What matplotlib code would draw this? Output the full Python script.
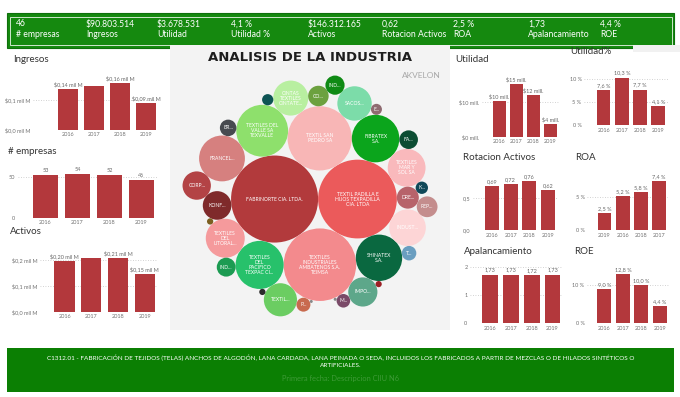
import math
import matplotlib
matplotlib.use('Agg')
import matplotlib.pyplot as plt
from matplotlib.patches import Circle, Rectangle

plt.rcParams['font.family'] = ['Lato', 'DejaVu Sans']

W, H = 680, 397
BAR = '#b3383c'

# ---------------- data ----------------
years = ['2016', '2017', '2018', '2019']

kpi_values = ['46', '$90.803.514', '$3.678.531', '4,1 %', '$146.312.165',
              '0,62', '2,5 %', '1,73', '4,4 %']
kpi_labels = ['# empresas', 'Ingresos', 'Utilidad', 'Utilidad %', 'Activos',
              'Rotacion Activos', 'ROA', 'Apalancamiento', 'ROE']

ingresos = [0.137, 0.147, 0.157, 0.091]      # mil M
empresas = [53, 54, 52, 46]
activos = [0.197, 0.206, 0.208, 0.146]       # mil M
utilidad = [10.2, 15.1, 12.0, 3.7]           # millones
utilidad_pct = [7.6, 10.3, 7.7, 4.1]
rotacion = [0.69, 0.72, 0.76, 0.62]
roa_years = ['2019', '2016', '2018', '2017']
roa = [2.5, 5.2, 5.8, 7.4]
apalancamiento = [1.73, 1.73, 1.72, 1.73]
roe = [9.0, 12.8, 10.0, 4.4]

# ingresos 2019 por empresa (millones), orden descendente
emp_labels = ['FABRINORTE CIA. LTDA.', 'TEXTIL PADILLA E\nHIJOS TEXPADILLA\nCIA. LTDA',
              'TEXTILES\nINDUSTRIALES\nAMBATENOS S.A.\nTEIMSA', 'TEXTIL SAN\nPEDRO SA',
              'TEXTILES DEL\nVALLE SA\nTEXVALLE', 'TEXTILES\nDEL\nPACIFICO\nTEXPAC CI...',
              'FIBRATEX\nS.A.', 'SHINATEX\nS.A.', 'FRANCEL...', 'TEXTILES\nDEL\nLITORAL...',
              'TEXTILES\nMAR Y\nSOL SA', 'INDUST...', 'CINTAS\nTEXTILES\nCINTATE...', 'SACOS...',
              'TEXTIL...', 'IMPO...', 'KONF...', 'CORP...', 'DRE...', 'REP...', 'CO...',
              'IND...', 'IND...', 'FA...', 'BR...', 'T...', 'P...', 'M...', 'K...', '',
              'E...', '', '', '', '', '']
emp_ingresos = [14.43, 11.81, 10.02, 7.86, 5.11, 4.40, 4.30, 4.10, 4.00, 2.89,
                2.72, 2.55, 2.33, 2.25, 2.09, 1.62, 1.56, 1.53, 0.92, 0.82, 0.80,
                0.70, 0.68, 0.66, 0.52, 0.40, 0.37, 0.35, 0.29, 0.24,
                0.23, 0.075, 0.074, 0.073, 0.018, 0.017]
emp_colors = ['#b23a3c', '#eb5a5b', '#f38a8d', '#f8b6b6', '#8ee06c', '#27c16b',
              '#0ba51c', '#0a6840', '#d6807f', '#f59a9c', '#f9b9bc', '#fdd5d6',
              '#b8efa0', '#7cdca9', '#6bcd62', '#5da78a', '#7f2a2b', '#b34345',
              '#b7636a', '#c48d8d', '#6ca13f', '#0f8a14', '#1c9b52', '#0c4d33',
              '#474a50', '#6a9ec0', '#c86a4e', '#7a4a68', '#104858', '#0d5454',
              '#8e6a70', '#7b5f20', '#2b2b2b', '#9c2025', '#888888', '#888888']

ciiu_text = ('C1312.01 - FABRICACIÓN DE TEJIDOS (TELAS) ANCHOS DE ALGODÓN, LANA CARDADA, '
             'LANA PEINADA O SEDA, INCLUIDOS LOS FABRICADOS A PARTIR DE MEZCLAS O DE HILADOS '
             'SINTÉTICOS O\nARTIFICIALES.')
ciiu_sub = 'Primera fecha: Descripcion CIIU N6'


def dec(v, n):
    return f'{v:.{n}f}'.replace('.', ',')


# ---------------- circle packing (front-chain, like d3.packSiblings) ----------------
def place(b, a, c):
    dx = b[0] - a[0]
    dy = b[1] - a[1]
    d2 = dx * dx + dy * dy
    if d2:
        a2 = (a[2] + c[2]) ** 2
        b2 = (b[2] + c[2]) ** 2
        if a2 > b2:
            x = (d2 + b2 - a2) / (2 * d2)
            y = math.sqrt(max(0, b2 / d2 - x * x))
            c[0] = b[0] - x * dx - y * dy
            c[1] = b[1] - x * dy + y * dx
        else:
            x = (d2 + a2 - b2) / (2 * d2)
            y = math.sqrt(max(0, a2 / d2 - x * x))
            c[0] = a[0] + x * dx - y * dy
            c[1] = a[1] + x * dy + y * dx
    else:
        c[0] = a[0] + c[2]
        c[1] = a[1]


def intersects(a, b):
    dr = a[2] + b[2] - 1e-6
    dx = b[0] - a[0]
    dy = b[1] - a[1]
    return dr > 0 and dr * dr > dx * dx + dy * dy


def pack(radii):
    n = len(radii)
    cs = [[0.0, 0.0, r] for r in radii]
    cs[0][0] = -cs[1][2]
    cs[1][0] = cs[0][2]
    place(cs[1], cs[0], cs[2])
    nxt = [0] * n
    prv = [0] * n
    nxt[0], prv[2] = 1, 1
    nxt[1], prv[0] = 2, 2
    nxt[2], prv[1] = 0, 0

    def score(i):
        a, b = cs[i], cs[nxt[i]]
        ab = a[2] + b[2]
        x = (a[0] * b[2] + b[0] * a[2]) / ab
        y = (a[1] * b[2] + b[1] * a[2]) / ab
        return x * x + y * y

    ia, ib = 0, 1
    i = 3
    while i < n:
        c = cs[i]
        place(cs[ia], cs[ib], c)
        j, k = nxt[ib], prv[ia]
        sj, sk = cs[ib][2], cs[ia][2]
        hit = False
        while True:
            if sj <= sk:
                if intersects(cs[j], c):
                    ib = j
                    nxt[ia], prv[ib] = ib, ia
                    hit = True
                    break
                sj += cs[j][2]
                j = nxt[j]
            else:
                if intersects(cs[k], c):
                    ia = k
                    nxt[ia], prv[ib] = ib, ia
                    hit = True
                    break
                sk += cs[k][2]
                k = prv[k]
            if j == nxt[k]:
                break
        if hit:
            continue
        prv[i], nxt[i] = ia, ib
        nxt[ia] = i
        prv[ib] = i
        aa = score(ia)
        q = nxt[i]
        while q != i:
            s = score(q)
            if s < aa:
                ia, aa = q, s
            q = nxt[q]
        ib = nxt[ia]
        i += 1
    return cs


def enclose(cs):
    x = sum(c[0] for c in cs) / len(cs)
    y = sum(c[1] for c in cs) / len(cs)
    for t in range(1, 4000):
        far = max(cs, key=lambda c: math.hypot(c[0] - x, c[1] - y) + c[2])
        d = math.hypot(far[0] - x, far[1] - y) or 1e-9
        fx = far[0] + (far[0] - x) / d * far[2]
        fy = far[1] + (far[1] - y) / d * far[2]
        x += (fx - x) / (t + 1)
        y += (fy - y) / (t + 1)
    r = max(math.hypot(c[0] - x, c[1] - y) + c[2] for c in cs)
    return x, y, r


# ---------------- figure ----------------
fig = plt.figure(figsize=(W / 100, H / 100), dpi=100)
bg = fig.add_axes([0, 0, 1, 1])
bg.set_xlim(0, W)
bg.set_ylim(H, 0)
bg.axis('off')


def px_axes(x0, y0, x1, y1):
    return fig.add_axes([x0 / W, 1 - y1 / H, (x1 - x0) / W, (y1 - y0) / H])


# top banner
bg.add_patch(Rectangle((7, 13), 667, 35, fc='#15890f', ec='#0f700c', lw=0.8))
bg.add_patch(Rectangle((10, 16.5), 662, 28.5, fill=False, ec='#cfe6cc', lw=0.7))
kpi_x = [16, 86, 157, 231, 308, 382, 453, 528, 600]
for x, v, lab in zip(kpi_x, kpi_values, kpi_labels):
    bg.text(x, 24, v, color='white', fontsize=6.2, ha='left', va='center')
    bg.text(x, 34.5, lab, color='white', fontsize=6.2, ha='left', va='center')

bg.add_patch(Rectangle((633, 45), 47, 7, fc='#f1f1f1', ec='none'))

# bottom banner
bg.add_patch(Rectangle((7, 348), 667, 44, fc='#0b7f03', ec='none'))
bg.text(341, 361.5, ciiu_text, color='white', fontsize=4.6, ha='center', va='center',
        linespacing=1.35)
bg.text(341, 379, ciiu_sub, color='#3d9a36', fontsize=5.4, ha='center', va='center')


def bar_panel(box, xlim, ymax, ticks, ticklabels, cats, vals, labels, title, title_xy):
    ax = px_axes(*box)
    x = list(range(len(vals)))
    ax.bar(x, vals, width=0.76, color=BAR, zorder=3)
    ax.set_xlim(*xlim)
    ax.set_ylim(0, ymax)
    ax.set_yticks(ticks)
    ax.set_yticklabels(ticklabels)
    ax.set_xticks(x)
    ax.set_xticklabels(cats)
    ax.tick_params(length=0, labelsize=4, colors='#707070', pad=1.8)
    ax.grid(axis='y', linestyle=(0, (1, 2)), color='#c4c4c4', lw=0.6, zorder=0)
    for s in ax.spines.values():
        s.set_visible(False)
    ax.patch.set_alpha(0)
    for xi, v, lab in zip(x, vals, labels):
        if lab:
            ax.annotate(lab, (xi, v), xytext=(0, 1.4), textcoords='offset points',
                        ha='center', va='bottom', fontsize=4, color='#666666')
    bg.text(title_xy[0], title_xy[1], title, fontsize=7, color='#333333',
            ha='left', va='center')
    return ax


bar_panel((33, 75, 159, 130), (-1.346, 3.5), 0.1833, [0, 0.1],
          ['$0,0 mil M', '$0,1 mil M'], years, ingresos,
          [f'${dec(v, 2)} mil M' if i != 1 else '' for i, v in enumerate(ingresos)],
          'Ingresos', (13, 60))
bar_panel((18, 160, 157.5, 218), (-0.86, 3.5), 70.7, [0, 50], ['0', '50'], years,
          empresas, [str(v) for v in empresas], '# empresas', (8, 151))
bar_panel((40, 245, 158, 312), (-0.92, 3.5), 0.2577, [0, 0.1, 0.2],
          ['$0,0 mil M', '$0,1 mil M', '$0,2 mil M'], years, activos,
          [f'${dec(v, 2)} mil M' if i != 1 else '' for i, v in enumerate(activos)],
          'Activos', (10, 232))
bar_panel((482, 80, 559, 137), (-1.03, 3.5), 16.29, [0, 10], ['$0 mill.', '$10 mill.'],
          years, utilidad, [f'${v:.0f} mill.' for v in utilidad], 'Utilidad', (455, 60))
bar_panel((584, 68, 667.5, 125), (-1.07, 3.5), 12.39, [0, 5, 10], ['0 %', '5 %', '10 %'],
          years, utilidad_pct, [f'{dec(v, 1)} %' for v in utilidad_pct], 'Utilidad%', (570, 52))
bar_panel((473, 168, 557.4, 230), (-1.01, 3.5), 0.969, [0, 0.5], ['0,0', '0,5'],
          years, rotacion, [dec(v, 2) for v in rotacion], 'Rotacion Activos', (463, 158))
bar_panel((587, 168, 668, 230), (-0.97, 3.5), 9.39, [0, 5], ['0 %', '5 %'],
          roa_years, roa, [f'{dec(v, 1)} %' for v in roa], 'ROA', (575, 158))
bar_panel((470, 258, 563, 323), (-0.96, 3.5), 2.32, [0, 1, 2], ['0', '1', '2'],
          years, apalancamiento, [dec(v, 2) for v in apalancamiento], 'Apalancamiento',
          (464, 251))
bar_panel((587, 260, 669.25, 323), (-0.93, 3.5), 16.6, [0, 10], ['0 %', '10 %'],
          years, roe, [f'{dec(v, 1)} %' for v in roe], 'ROE', (574, 251))

# bubble panel
bx = px_axes(170, 45, 450, 330)
bx.set_xlim(170, 450)
bx.set_ylim(330, 45)
bx.set_facecolor('#f3f3f3')
bx.set_xticks([])
bx.set_yticks([])
for s in bx.spines.values():
    s.set_visible(False)
bx.text(310, 57.5, 'ANALISIS DE LA INDUSTRIA', fontsize=9.5, fontweight='bold',
        family='DejaVu Sans', color='#1e1e1e', ha='center', va='center')
bx.text(421.5, 76, 'AKVELON', fontsize=6, color='#a8a8a8', ha='center', va='center')

PACK_CX, PACK_CY, PACK_R = 310, 196, 128
circles = pack([math.sqrt(v) for v in emp_ingresos])
ex, ey, er = enclose(circles)
k = PACK_R / er
for (x, y, r), lab, col in zip(circles, emp_labels, emp_colors):
    cx = PACK_CX + k * (x - ex)
    cy = PACK_CY + k * (y - ey)
    bx.add_patch(Circle((cx, cy), k * r, fc=col, ec='none'))
    if lab:
        bx.text(cx, cy, lab, fontsize=3.6, color='white', ha='center', va='center',
                linespacing=1.0)

fig.savefig('out.png', dpi=100)
